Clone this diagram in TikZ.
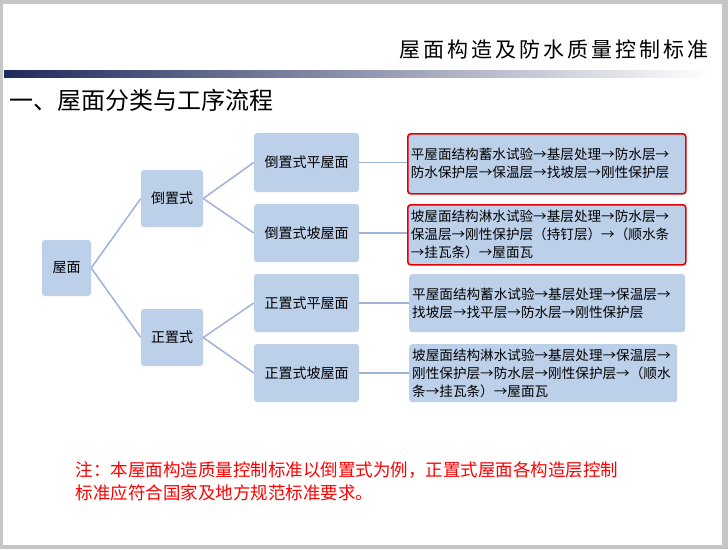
\documentclass[tikz,border=0pt]{standalone}
\usepackage{fontspec}
\setmainfont{Noto Sans CJK SC}
\usetikzlibrary{shadings}
\definecolor{boxfill}{HTML}{BCD0EA}
\definecolor{linec}{HTML}{9FB4D6}
\definecolor{navy}{HTML}{1F2A5C}
\tikzset{
 cat/.style={draw=none,fill=boxfill,rounded corners=3pt,align=center,font=\fontsize{14}{16}\selectfont},
 flow/.style={cat,align=left,font=\fontsize{13.6}{18}\selectfont,inner sep=3pt,anchor=north west,text width=#1},
 redb/.style={draw=red!90!black,line width=1.6pt},
 conn/.style={draw=linec,line width=1.5pt}
}
\begin{document}
\begin{tikzpicture}[x=1pt,y=-1pt]
\useasboundingbox (0,0) rectangle (728,549);
\fill[gray!45] (0,0) rectangle (728,549);
\fill[white] (3,4) rectangle (722,545);
\shade[left color=navy,right color=white] (4,70) rectangle (710,77);
\node[anchor=east,font=\fontsize{21}{21}\selectfont] (title) at (712,50) {屋\kern3pt 面\kern3pt 构\kern3pt 造\kern3pt 及\kern3pt 防\kern3pt 水\kern3pt 质\kern3pt 量\kern3pt 控\kern3pt 制\kern3pt 标\kern3pt 准};
\node[anchor=west,font=\fontsize{24}{24}\selectfont] (head) at (6,100) {一、屋面分类与工序流程};

\node[cat,minimum width=49,minimum height=56] (root) at (66.5,268) {屋面};
\node[cat,minimum width=62,minimum height=57] (dz) at (172,198.5) {倒置式};
\node[cat,minimum width=62,minimum height=57] (zz) at (172,337.5) {正置式};
\node[cat,minimum width=105,minimum height=59] (a1) at (306.5,162.5) {倒置式平屋面};
\node[cat,minimum width=105,minimum height=58] (a2) at (306.5,233) {倒置式坡屋面};
\node[cat,minimum width=105,minimum height=58] (b1) at (306.5,303) {正置式平屋面};
\node[cat,minimum width=105,minimum height=58] (b2) at (306.5,373) {正置式坡屋面};

\node[flow=272pt,redb,minimum height=60] (f1) at (407,133) {平屋面结构蓄水试验→基层处理→防水层→\\防水保护层→保温层→找坡层→刚性保护层};
\node[flow=272pt,redb,minimum height=60] (f2) at (407,204) {坡屋面结构淋水试验→基层处理→防水层→\\保温层→刚性保护层（持钉层）→（顺水条\\→挂瓦条）→屋面瓦};
\node[flow=270pt,minimum height=58] (f3) at (409,274) {平屋面结构蓄水试验→基层处理→保温层→\\找坡层→找平层→防水层→刚性保护层};
\node[flow=262pt,minimum height=58] (f4) at (409,344) {坡屋面结构淋水试验→基层处理→保温层→\\刚性保护层→防水层→刚性保护层→（顺水\\条→挂瓦条）→屋面瓦};

\draw[conn] (root.east) -- (dz.west);
\draw[conn] (root.east) -- (zz.west);
\draw[conn] (dz.east) -- (a1.west);
\draw[conn] (dz.east) -- (a2.west);
\draw[conn] (zz.east) -- (b1.west);
\draw[conn] (zz.east) -- (b2.west);
\draw[conn] (a1.east) -- (f1.west|-a1.east);
\draw[conn] (a2.east) -- (f2.west|-a2.east);
\draw[conn] (b1.east) -- (f3.west|-b1.east);
\draw[conn] (b2.east) -- (f4.west|-b2.east);

\node[anchor=north west,align=left,text=red,font=\fontsize{17.5}{23}\selectfont] (note) at (72,458) {注：本屋面构造质量控制标准以倒置式为例，正置式屋面各构造层控制\\标准应符合国家及地方规范标准要求。};
\end{tikzpicture}
\end{document}
